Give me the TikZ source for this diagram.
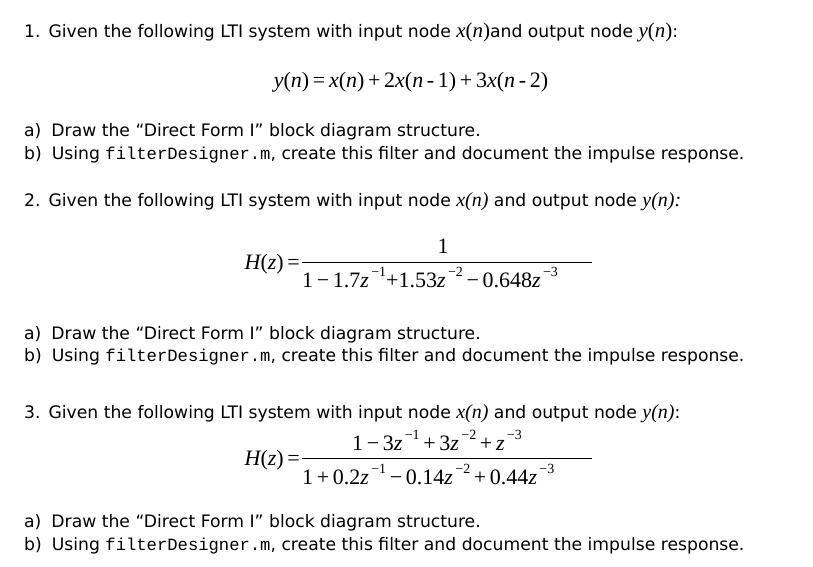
\documentclass[tikz,border=0pt]{standalone}
\usepackage{fontspec}
\setmainfont{DejaVu Sans}
\setmonofont{Liberation Mono}
\newfontfamily\tnr{Liberation Serif}
\newcommand\ssup[1]{\raisebox{1.0ex}{\fontsize{14}{14}\selectfont #1}}
\newcommand\vi[1]{{\tnr\itshape #1}}
\newcommand\vr[1]{{\tnr #1}}
\begin{document}
\begin{tikzpicture}[x=1pt,y=-1pt,
  txt/.style={anchor=base west,inner sep=0pt,font=\fontsize{17.2}{19}\selectfont},
  eq/.style={inner sep=0pt,font=\fontsize{22}{24}\tnr}]
\useasboundingbox (0,0) rectangle (813,566);
\node[txt] (l1) at (24,37) {1.\hspace{8pt}Given the following LTI system with input node {\fontsize{21}{20}\vi{x}\vr{(}\vi{n}\vr{)}}and output node {\fontsize{21}{20}\vi{y}\vr{(}\vi{n}\vr{)}}:};
\node[eq,anchor=base] (e1) at (411,87) {\itshape y\upshape(\itshape n\upshape)\,=\,\itshape x\upshape(\itshape n\upshape)\,+\,2\itshape x\upshape(\itshape n\upshape\,-\,1)\,+\,3\itshape x\upshape(\itshape n\upshape\,-\,2)};
\node[txt] (a1) at (24,136) {a)\hspace{10pt}Draw the “Direct Form I” block diagram structure.};
\node[txt] (b1) at (24,159) {b)\hspace{10pt}Using \texttt{filterDesigner.m}, create this filter and document the impulse response.};
\node[txt] (l2) at (24,206) {2.\hspace{8pt}Given the following LTI system with input node {\fontsize{20}{19}\vi{x(n)}} and output node {\fontsize{20}{19}\vi{y(n):}}};
\node[eq,anchor=base east] (h2) at (300,269) {\itshape H\upshape(\itshape z\upshape)\,=};
\draw[line width=0.8pt] (302,262) -- (592,262);
\node[eq,anchor=base] (n2) at (443,253) {1};
\node[eq,anchor=base west] (d2) at (302,287) {1\,−\,1.7\itshape z\upshape\ssup{\,−1}+1.53\itshape z\upshape\ssup{\,−2}\,−\,0.648\itshape z\upshape\ssup{\,−3}};
\node[txt] (a2) at (24,339) {a)\hspace{10pt}Draw the “Direct Form I” block diagram structure.};
\node[txt] (b2) at (24,361) {b)\hspace{10pt}Using \texttt{filterDesigner.m}, create this filter and document the impulse response.};
\node[txt] (l3) at (24,418) {3.\hspace{8pt}Given the following LTI system with input node {\fontsize{20}{19}\vi{x(n)}} and output node {\fontsize{20}{19}\vi{y(n)}}:};
\node[eq,anchor=base east] (h3) at (300,465) {\itshape H\upshape(\itshape z\upshape)\,=};
\draw[line width=0.8pt] (302,458) -- (592,458);
\node[eq,anchor=base west] (n3) at (352,450) {1\,−\,3\itshape z\upshape\ssup{\,−1}\,+\,3\itshape z\upshape\ssup{\,−2}\,+\,\itshape z\upshape\ssup{\,−3}};
\node[eq,anchor=base west] (d3) at (302,484) {1\,+\,0.2\itshape z\upshape\ssup{\,−1}\,−\,0.14\itshape z\upshape\ssup{\,−2}\,+\,0.44\itshape z\upshape\ssup{\,−3}};
\node[txt] (a3) at (24,527) {a)\hspace{10pt}Draw the “Direct Form I” block diagram structure.};
\node[txt] (b3) at (24,550) {b)\hspace{10pt}Using \texttt{filterDesigner.m}, create this filter and document the impulse response.};
\end{tikzpicture}
\end{document}
